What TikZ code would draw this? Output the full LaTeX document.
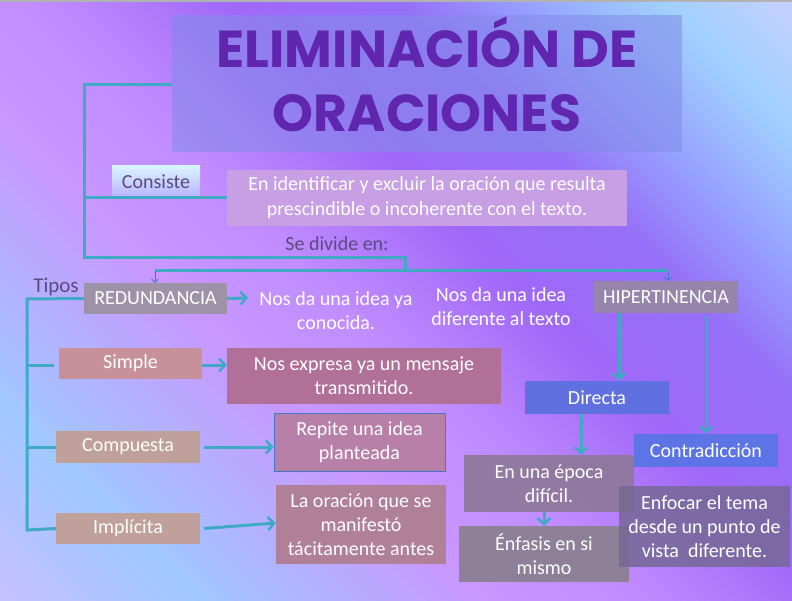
\documentclass[tikz,border=0pt]{standalone}
\usepackage{fontspec}
\setmainfont{Carlito}
\newfontfamily\titlefont{Poppins}
\usetikzlibrary{arrows.meta}
\definecolor{teal1}{RGB}{64,170,196}
\definecolor{blue1}{RGB}{70,120,200}
\definecolor{bg0}{RGB}{200,192,255}
\definecolor{bg1}{RGB}{160,200,255}
\definecolor{bg2}{RGB}{200,152,255}
\definecolor{bg3}{RGB}{192,140,255}
\definecolor{bg4}{RGB}{160,104,248}
\definecolor{bg5}{RGB}{150,112,248}
\definecolor{bg6}{RGB}{150,160,255}
\definecolor{bg7}{RGB}{160,208,255}
\definecolor{bg8}{RGB}{200,208,255}
\definecolor{titlec}{RGB}{96,38,176}
\definecolor{labc}{RGB}{90,74,128}
\definecolor{cTitleBox}{RGB}{130,140,232}
\definecolor{cDesc}{RGB}{200,158,228}
\definecolor{cRed}{RGB}{158,146,168}
\definecolor{cHip}{RGB}{150,132,170}
\definecolor{cSimple}{RGB}{200,144,154}
\definecolor{cNex}{RGB}{176,112,152}
\definecolor{cComp}{RGB}{192,160,154}
\definecolor{cRep}{RGB}{184,128,168}
\definecolor{cLao}{RGB}{176,128,152}
\definecolor{cDir}{RGB}{96,112,224}
\definecolor{cCon}{RGB}{92,116,230}
\definecolor{cEpo}{RGB}{142,120,152}
\definecolor{cEnf}{RGB}{142,128,152}
\definecolor{cEnfo}{RGB}{118,104,150}
\definecolor{cConsT}{RGB}{216,244,255}
\definecolor{cConsB}{RGB}{184,176,255}
\newcommand\bgseg[4]{%
  \foreach \i in {0,...,15}{%
    \pgfmathsetmacro\sa{#1+(#2-#1)*\i/16-601}%
    \pgfmathsetmacro\sb{#1+(#2-#1)*(\i+1)/16-600}%
    \pgfmathtruncatemacro\pc{100-100*(\i+0.5)/16}%
    \fill[fill={#3!\pc!#4}] (\sa,0) -- (\sb,0) -- (\sb+1000,1000) -- (\sa+1000,1000) -- cycle;
  }}
\begin{document}
\begin{tikzpicture}[x=1pt,y=-1pt,
  box/.style={inner sep=0pt, align=center, text=white, font=\fontsize{20}{24}\selectfont},
  lab/.style={inner sep=0pt, align=center, font=\fontsize{20}{24}\selectfont},
  conn/.style={draw=teal1, line width=3pt},
  arr/.style={draw=teal1, line width=3pt, -{Straight Barb[length=6pt,width=13pt,line width=2.5pt]}},
  thinarr/.style={draw=blue1, line width=0.9pt, -{Straight Barb[length=3pt,width=7pt,line width=0.9pt]}},
  ttl/.style={inner sep=0pt, anchor=base, text=titlec, font=\titlefont\bfseries\fontsize{52}{56}\selectfont}
]
\useasboundingbox (0,0) rectangle (792,601);
% background
\begin{scope}
  \clip (0,0) rectangle (792,601);
  \bgseg{-10}{200}{bg0}{bg1}
  \bgseg{200}{480}{bg1}{bg2}
  \bgseg{480}{640}{bg2}{bg3}
  \bgseg{640}{830}{bg3}{bg4}
  \bgseg{830}{1000}{bg4}{bg5}
  \bgseg{1000}{1120}{bg5}{bg6}
  \bgseg{1120}{1260}{bg6}{bg7}
  \bgseg{1260}{1400}{bg7}{bg8}
\end{scope}
\fill[gray!60] (0,0) rectangle (792,2);

% title
\node[inner sep=0pt, minimum width=510pt, minimum height=137pt, fill=cTitleBox, fill opacity=0.55] (title) at (427,83.5) {};
\node[ttl] (t1) at (427,68) {ELIMINACIÓN DE};
\node[ttl] (t2) at (427,132) {ORACIONES};

% consiste
\node[lab, minimum width=88pt, minimum height=32pt, top color=cConsT, bottom color=cConsB, text=labc] (cons) at (156,182) {Consiste};
\node[box, minimum width=400pt, minimum height=56pt, fill=cDesc, font=\fontsize{20}{25}\selectfont] (desc) at (427,198) {En identificar y excluir la oración que resulta\\prescindible o incoherente con el texto.};
\node[lab, text=labc] (sed) at (337,244) {Se divide en:};
\node[lab, text=labc, font=\fontsize{21}{24}\selectfont] (tipos) at (56,287) {Tipos};

% main boxes
\node[box, minimum width=143pt, minimum height=31pt, fill=cRed] (red) at (155.5,298.5) {REDUNDANCIA};
\node[box] (nd1) at (336,311) {Nos da una idea ya\\conocida.};
\node[box] (nd2) at (501,307) {Nos da una idea\\diferente al texto};
\node[box, minimum width=144pt, minimum height=32pt, fill=cHip] (hip) at (666,297) {HIPERTINENCIA};

\node[box, minimum width=143pt, minimum height=31pt, fill=cSimple] (simple) at (130.5,363.5) {Simple};
\node[box, minimum width=274pt, minimum height=56pt, fill=cNex] (nex) at (364,376) {Nos expresa ya un mensaje\\transmitido.};
\node[box, minimum width=144pt, minimum height=32pt, fill=cComp] (comp) at (128,447) {Compuesta};
\node[box, minimum width=171pt, minimum height=58pt, fill=cRep, draw=blue1, line width=0.8pt] (rep) at (359.5,442) {Repite una idea\\planteada};
\node[box, minimum width=144pt, minimum height=31pt, fill=cComp] (impl) at (128,528.5) {Implícita};
\node[box, minimum width=170pt, minimum height=79pt, fill=cLao] (lao) at (361,524.5) {La oración que se\\manifestó\\tácitamente antes};

\node[box, minimum width=144pt, minimum height=33pt, fill=cDir] (dir) at (597,397.5) {Directa};
\node[box, minimum width=144pt, minimum height=33pt, fill=cCon] (con) at (706,450.5) {Contradicción};
\node[box, minimum width=170pt, minimum height=57pt, fill=cEpo, fill opacity=0.9, text opacity=1] (epo) at (549,483.5) {En una época\\difícil.};
\node[box, minimum width=170pt, minimum height=56pt, fill=cEnf] (enf) at (544,554) {Énfasis en si\\mismo};
\node[box, minimum width=171pt, minimum height=81pt, fill=cEnfo, fill opacity=0.85, text opacity=1] (enfo) at (704.5,526.5) {Enfocar el tema\\desde un punto de\\vista \ diferente.};

% connector coordinates
\coordinate (c1) at (84,85);
\coordinate (c2) at (84,258);
\coordinate (c3) at (405,258);
\coordinate (c4) at (405,271);
\coordinate (cb) at (84,198);
\coordinate (busL) at (155,271);
\coordinate (busR) at (668,271);
\coordinate (k1) at (27,299);
\coordinate (k2) at (27,365);
\coordinate (k3) at (27,447);
\coordinate (k4) at (27,530);
\coordinate (e1) at (248,298);

\draw[conn] (title.west |- c1) -- (c1) -- (c2) -- (c3) -- (c4);
\draw[conn] (cb) -- (desc.west);
\draw[conn] (busL) -- (busR);
\draw[thinarr] (busL) -- (busL |- red.north);
\draw[thinarr] (busR) -- (busR |- hip.north);

\draw[conn] (red.west) -- (k1) -- (k4) -- (impl.west);
\draw[conn] (k2) -- ([xshift=-5pt]simple.west |- k2);
\draw[conn] (k3) -- (comp.west |- k3);

\draw[arr] (red.east) -- (e1);
\draw[arr] (simple.east |- k2) -- (nex.west |- k2);
\draw[arr] ([xshift=4pt]comp.east |- k3) -- (rep.west |- k3);
\draw[arr] ([xshift=4pt]impl.east) -- ([yshift=1.5pt]lao.west);

\draw[arr] ([xshift=-47pt]hip.south) -- ([xshift=-47pt]hip.south |- dir.north);
\draw[arr] ([yshift=-3pt]con.north |- hip.south) -- (con.north);
\draw[arr] ([xshift=-16pt]dir.south) -- ([xshift=-16pt]dir.south |- epo.north);
\draw[arr] (enf.north |- epo.south) -- (enf.north);
\end{tikzpicture}
\end{document}
